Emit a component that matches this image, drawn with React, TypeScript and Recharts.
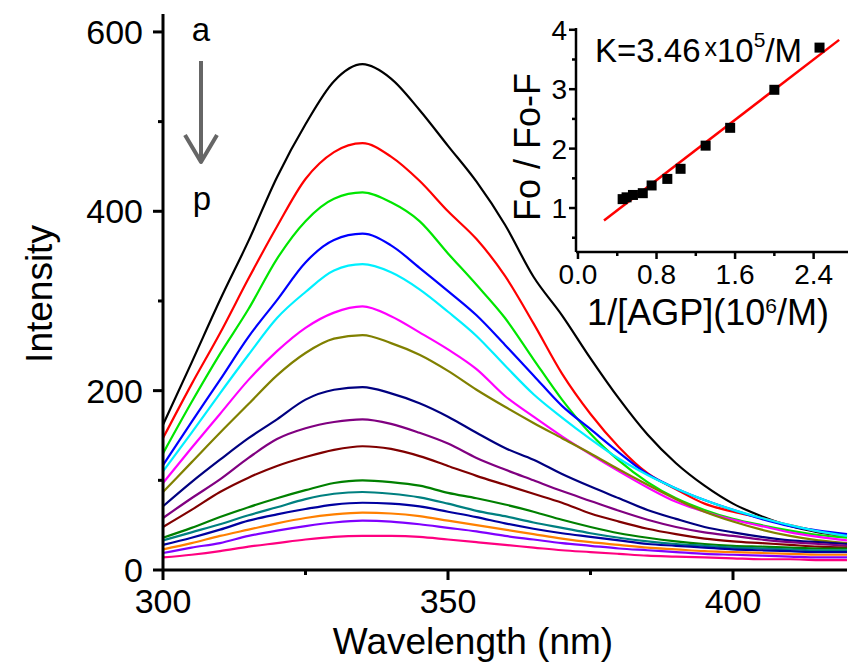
import React from 'react';
import {
  LineChart,
  Line,
  XAxis,
  YAxis,
  ScatterChart,
  Scatter,
  Customized,
} from 'recharts';

const FONT = '"Liberation Sans", Arial, Helvetica, sans-serif';

// Emission wavelengths (nm)
const WAVELENGTHS = [
  300, 305, 310, 315, 320, 325, 330, 335, 340, 345, 350, 355, 360,
  365, 370, 375, 380, 385, 390, 395, 400, 405, 410, 415, 420,
];

// Fluorescence intensity of spectra a..p
const SPEC_A = [162, 231, 301, 367, 438, 497, 545, 564, 548, 513, 473, 433, 385, 327, 284, 236, 191, 151, 119, 94, 74, 60, 49, 42, 38];
const SPEC_B = [147, 207, 264, 325, 383, 436, 466, 476, 461, 434, 400, 369, 328, 275, 219, 174, 137, 108, 90, 74, 65, 58, 50, 43, 37];
const SPEC_C = [130, 187, 241, 291, 347, 389, 414, 421, 410, 389, 353, 318, 281, 235, 190, 152, 122, 98, 80, 67, 57, 50, 44, 39, 36];
const SPEC_D = [117, 165, 212, 260, 301, 343, 368, 375, 362, 337, 311, 284, 251, 217, 183, 157, 131, 107, 91, 78, 67, 57, 49, 44, 40];
const SPEC_E = [110, 153, 197, 240, 281, 310, 334, 341, 332, 313, 288, 261, 228, 196, 170, 146, 124, 106, 91, 78, 67, 58, 50, 43, 38];
const SPEC_F = [97, 136, 174, 212, 244, 270, 287, 294, 283, 265, 246, 224, 194, 171, 149, 129, 110, 92, 76, 65, 56, 49, 42, 37, 33];
const SPEC_G = [87, 120, 153, 185, 217, 242, 258, 262, 253, 240, 222, 201, 182, 164, 147, 130, 112, 95, 79, 65, 54, 45, 38, 33, 30];
const SPEC_H = [71, 98, 123, 147, 168, 190, 201, 204, 197, 186, 171, 153, 136, 123, 107, 93, 80, 67, 57, 48, 42, 37, 33, 31, 29];
const SPEC_I = [58, 80, 101, 125, 146, 158, 165, 168, 163, 153, 141, 125, 112, 100, 88, 77, 66, 56, 48, 42, 38, 34, 31, 29, 27];
const SPEC_J = [48, 67, 87, 103, 116, 126, 134, 138, 135, 127, 116, 105, 95, 85, 75, 63, 54, 46, 40, 35, 32, 30, 28, 26, 25];
const SPEC_K = [36, 47, 59, 70, 80, 89, 97, 100, 98, 94, 86, 80, 73, 65, 56, 48, 41, 36, 32, 29, 27, 26, 25, 24, 24];
const SPEC_L = [33, 42, 51, 61, 70, 79, 85, 87, 85, 81, 74, 66, 60, 53, 47, 41, 36, 32, 29, 27, 25, 24, 23, 22, 22];
const SPEC_M = [28, 36, 45, 55, 62, 68, 73, 75, 74, 71, 65, 59, 52, 46, 41, 37, 33, 29, 27, 25, 23, 22, 21, 20, 20];
const SPEC_N = [23, 30, 38, 45, 52, 58, 62, 64, 63, 60, 55, 50, 45, 40, 35, 31, 28, 25, 23, 21, 20, 19, 18, 17, 17];
const SPEC_O = [19, 25, 30, 38, 44, 49, 53, 55, 54, 51, 47, 43, 38, 34, 30, 27, 24, 22, 20, 18, 17, 16, 15, 14, 14];
const SPEC_P = [14, 17, 21, 26, 30, 34, 37, 38, 38, 37, 34, 31, 28, 25, 22, 20, 18, 16, 15, 14, 13, 12, 12, 11, 11];

const SPECTRA = [SPEC_A, SPEC_B, SPEC_C, SPEC_D, SPEC_E, SPEC_F, SPEC_G, SPEC_H, SPEC_I, SPEC_J, SPEC_K, SPEC_L, SPEC_M, SPEC_N, SPEC_O, SPEC_P];
const SPEC_KEYS = ['a', 'b', 'c', 'd', 'e', 'f', 'g', 'h', 'i', 'j', 'k', 'l', 'm', 'n', 'o', 'p'];
const SPEC_COLORS = [
  '#000000', '#ff0000', '#00e600', '#0000ff', '#00f0ff', '#ff00ff', '#808000', '#000080',
  '#800080', '#800000', '#008000', '#008080', '#0000a0', '#ff8000', '#8000ff', '#ff0080',
];

// Main axis ticks
const X_TICKS = [300, 325, 350, 375, 400];
const X_MAJOR = [300, 350, 400];
const Y_TICKS = [0, 100, 200, 300, 400, 500, 600];
const Y_MAJOR = [0, 200, 400, 600];

// Inset: double-reciprocal plot
const INV_AGP = [0.455, 0.495, 0.56, 0.66, 0.75, 0.91, 1.045, 1.3, 1.55, 2.0, 2.46];
const F_RATIO = [1.15, 1.18, 1.22, 1.25, 1.38, 1.49, 1.66, 2.05, 2.35, 2.99, 3.7];
const FIT_X = [0.265, 2.66];
const FIT_Y = [0.79, 3.83];
const INSET_X_TICKS = [0, 0.4, 0.8, 1.2, 1.6, 2.0, 2.4];
const INSET_X_MAJOR = [0, 0.8, 1.6, 2.4];
const INSET_Y_TICKS = [0.5, 1, 1.5, 2, 2.5, 3, 3.5, 4];
const INSET_Y_MAJOR = [1, 2, 3, 4];

const rows = WAVELENGTHS.map((wl, i) => {
  const r: Record<string, number> = { wl };
  SPEC_KEYS.forEach((k, s) => {
    r[k] = SPECTRA[s][i];
  });
  return r;
});

const pointRows = INV_AGP.map((x, i) => ({ x, y: F_RATIO[i] }));
const fitRows = FIT_X.map((x, i) => ({ x, y: FIT_Y[i] }));

const MainXTick = (props: any) => {
  const { x, y, payload } = props;
  const major = X_MAJOR.includes(payload.value);
  return (
    <g>
      <line x1={x} x2={x} y1={y} y2={y + (major ? 10 : 5)} stroke="#000" strokeWidth={3} />
      {major && (
        <text x={x} y={y + 43} textAnchor="middle" fontSize={34} fontFamily={FONT} fill="#000">
          {payload.value}
        </text>
      )}
    </g>
  );
};

const MainYTick = (props: any) => {
  const { x, y, payload } = props;
  const major = Y_MAJOR.includes(payload.value);
  return (
    <g>
      <line x1={x} x2={x - (major ? 10 : 5)} y1={y} y2={y} stroke="#000" strokeWidth={3} />
      {major && (
        <text x={x - 20} y={y + 12} textAnchor="end" fontSize={34} fontFamily={FONT} fill="#000">
          {payload.value}
        </text>
      )}
    </g>
  );
};

const InsetXTick = (props: any) => {
  const { x, y, payload } = props;
  const major = INSET_X_MAJOR.includes(payload.value);
  return (
    <g>
      <line x1={x} x2={x} y1={y} y2={y + (major ? 7 : 4)} stroke="#000" strokeWidth={2.5} />
      {major && (
        <text x={x} y={y + 32} textAnchor="middle" fontSize={28} fontFamily={FONT} fill="#000">
          {payload.value.toFixed(1)}
        </text>
      )}
    </g>
  );
};

const InsetYTick = (props: any) => {
  const { x, y, payload } = props;
  const major = INSET_Y_MAJOR.includes(payload.value);
  return (
    <g>
      <line x1={x} x2={x - (major ? 7 : 4)} y1={y} y2={y} stroke="#000" strokeWidth={2.5} />
      {major && (
        <text x={x - 9} y={y + 10} textAnchor="end" fontSize={28} fontFamily={FONT} fill="#000">
          {payload.value}
        </text>
      )}
    </g>
  );
};

// Axis titles and the a→p arrow of the spectra panel
const MainAnnotations = () => (
  <g fontFamily={FONT} fill="#000">
    <text x={201} y={41} textAnchor="middle" fontSize={33}>a</text>
    <text x={202} y={210} textAnchor="middle" fontSize={33}>p</text>
    <line x1={201} x2={201} y1={61} y2={160} stroke="#666" strokeWidth={4} />
    <polyline points="185,135 201,162 217,135" fill="none" stroke="#666" strokeWidth={4} strokeLinejoin="round" />
    <text x={52} y={294} textAnchor="middle" fontSize={37} transform="rotate(-90 52 294)">Intensity</text>
    <text x={473} y={654} textAnchor="middle" fontSize={37}>Wavelength (nm)</text>
  </g>
);

// Inset titles and binding constant
const InsetAnnotations = () => (
  <g fontFamily={FONT} fill="#000">
    <text x={80} y={147} textAnchor="middle" fontSize={36} transform="rotate(-90 80 147)">Fo / Fo-F</text>
    <text x={248} y={325} textAnchor="middle" fontSize={36}>
      1/[AGP](10<tspan fontSize={21} dy={-12}>6</tspan><tspan dy={12}>/M)</tspan>
    </text>
    <text x={135} y={62} fontSize={33}>
      K=3.46<tspan fontSize={25} dx={4} dy={-6}>x</tspan>
      <tspan fontSize={33} dy={6}>10</tspan>
      <tspan fontSize={21} dy={-15}>5</tspan>
      <tspan fontSize={33} dy={15}>/M</tspan>
    </text>
  </g>
);

const SquareDot = (p: any) => <rect x={p.cx - 5} y={p.cy - 5} width={10} height={10} fill="#000" />;
const NoDot = () => <g />;

export default function App() {
  return (
    <div style={{ position: 'absolute', left: 0, top: 0, width: 867, height: 670, background: '#fff' }}>
      <div style={{ position: 'absolute', left: 0, top: 0 }}>
        <LineChart width={867} height={670} data={rows} margin={{ top: 14, right: 20, bottom: 0, left: 0 }}>
          <XAxis
            dataKey="wl"
            type="number"
            domain={[300, 420]}
            ticks={X_TICKS}
            interval={0}
            height={100}
            tickSize={0}
            tickMargin={0}
            tickLine={false}
            axisLine={{ stroke: '#000', strokeWidth: 3 }}
            tick={(p: any) => <MainXTick {...p} />}
          />
          <YAxis
            type="number"
            domain={[0, 620]}
            ticks={Y_TICKS}
            interval={0}
            width={163}
            tickSize={0}
            tickMargin={0}
            tickLine={false}
            axisLine={{ stroke: '#000', strokeWidth: 3 }}
            tick={(p: any) => <MainYTick {...p} />}
          />
          {SPEC_KEYS.map((k, s) => (
            <Line
              key={k}
              dataKey={k}
              type="monotone"
              stroke={SPEC_COLORS[s]}
              strokeWidth={2.2}
              dot={false}
              isAnimationActive={false}
            />
          ))}
          <Customized component={MainAnnotations} />
        </LineChart>
      </div>
      <div style={{ position: 'absolute', left: 460, top: 0 }}>
        <ScatterChart width={400} height={340} margin={{ top: 28, right: 12, bottom: 0, left: 0 }}>
          <XAxis
            dataKey="x"
            type="number"
            domain={[-0.02, 2.75]}
            ticks={INSET_X_TICKS}
            interval={0}
            height={88}
            tickSize={0}
            tickMargin={0}
            tickLine={false}
            axisLine={{ stroke: '#000', strokeWidth: 2.5 }}
            tick={(p: any) => <InsetXTick {...p} />}
          />
          <YAxis
            dataKey="y"
            type="number"
            domain={[0.26, 4.03]}
            ticks={INSET_Y_TICKS}
            interval={0}
            width={116}
            tickSize={0}
            tickMargin={0}
            tickLine={false}
            axisLine={{ stroke: '#000', strokeWidth: 2.5 }}
            tick={(p: any) => <InsetYTick {...p} />}
          />
          <Scatter
            data={fitRows}
            line={{ stroke: '#ff0000', strokeWidth: 2.5 }}
            shape={NoDot}
            isAnimationActive={false}
          />
          <Scatter data={pointRows} shape={SquareDot} isAnimationActive={false} />
          <Customized component={InsetAnnotations} />
        </ScatterChart>
      </div>
    </div>
  );
}
